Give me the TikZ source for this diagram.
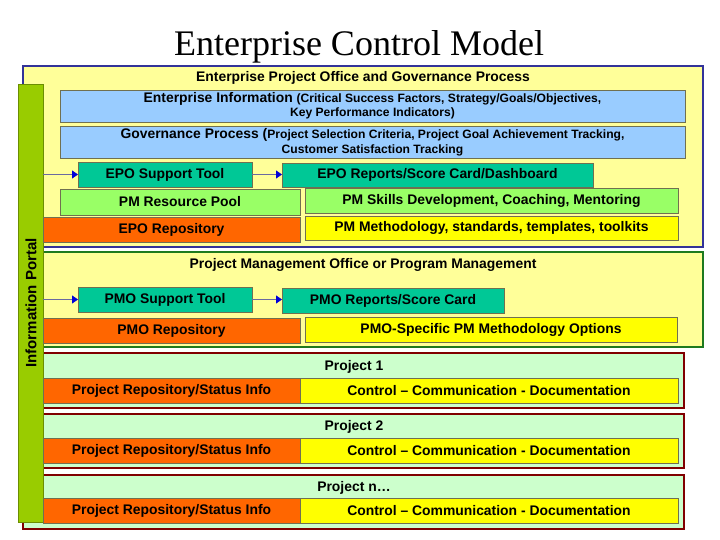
\documentclass[tikz,border=0pt]{standalone}
\usepackage{fontspec}
\setmainfont{Liberation Sans}
\newfontfamily\timesf{Liberation Serif}
\usetikzlibrary{arrows.meta}
\definecolor{pale}{HTML}{FFFF99}
\definecolor{bluebd}{HTML}{333399}
\definecolor{greenbd}{HTML}{1E7A1E}
\definecolor{redbd}{HTML}{800000}
\definecolor{projfill}{HTML}{CCFFCC}
\definecolor{portalfill}{HTML}{99CC00}
\definecolor{portalbd}{HTML}{6B8E00}
\definecolor{ltblue}{HTML}{99CCFF}
\definecolor{teal}{HTML}{00C896}
\definecolor{ltgreen}{HTML}{99FF66}
\definecolor{orng}{HTML}{FF6600}
\definecolor{yel}{HTML}{FFFF00}
\definecolor{boxline}{HTML}{707050}
\definecolor{arrline}{HTML}{6A6AA0}
\newcommand\bx[7]{\node[#6, minimum width={(#4-#2)*1pt}, minimum height={(#5-#3)*1pt}] (#1) at ({(#2+#4)/2},{(#3+#5)/2}) {#7};}
\tikzset{
  base/.style={inner sep=0pt, outer sep=0pt, font=\fontsize{13.9}{15}\selectfont\bfseries, align=center},
  inbox/.style={base, draw=boxline, line width=0.8pt},
  frame/.style={inner sep=0pt, outer sep=0pt, line width=2pt},
  lbl/.style={inner sep=0pt, font=\fontsize{13.9}{15}\selectfont\bfseries},
  arr/.style={draw=arrline, line width=0.9pt, -{Triangle[length=6pt,width=8pt,fill=blue!85!black,color=blue!85!black]}}
}
\newcommand\smalltxt{\fontsize{12.1}{14}\selectfont}
\begin{document}
\begin{tikzpicture}[x=1pt,y=-1pt]
\useasboundingbox (0,0) rectangle (720,540);
\node[anchor=base, inner sep=0pt, font=\timesf\fontsize{36}{40}\selectfont] (title) at (359,56) {Enterprise Control Model};
% outer frames
\bx{epo}{23}{66}{703}{247}{frame, draw=bluebd, fill=pale}{}
\bx{pmo}{23}{252}{703}{347}{frame, draw=greenbd, fill=pale}{}
\bx{p1}{23}{353}{684}{408}{frame, draw=redbd, fill=projfill}{}
\bx{p2}{23}{414}{684}{468}{frame, draw=redbd, fill=projfill}{}
\bx{pn}{23}{475}{684}{529}{frame, draw=redbd, fill=projfill}{}
% labels
\node[lbl] (epol) at (363,78) {Enterprise Project Office and Governance Process};
\node[lbl] (pmol) at (363,265) {Project Management Office or Program Management};
\node[lbl] (p1l) at (354,367) {Project 1};
\node[lbl] (p2l) at (354,427) {Project 2};
\node[lbl] (pnl) at (354,488) {Project n…};
% portal
\bx{portal}{18}{84}{43}{522}{inbox, draw=portalbd, fill=portalfill}{}
\node[lbl, rotate=90, font=\fontsize{15}{17}\selectfont\bfseries] (portall) at (31,303) {Information Portal};
% EPO inner boxes
\bx{entinfo}{60}{90}{685}{122}{inbox, fill=ltblue}{Enterprise Information {\smalltxt(Critical Success Factors, Strategy/Goals/Objectives,}\\[-1pt]{\smalltxt Key Performance Indicators)}}
\bx{gov}{60}{126}{685}{158}{inbox, fill=ltblue}{Governance Process ({\smalltxt Project Selection Criteria, Project Goal Achievement Tracking,}\\[0pt]{\smalltxt Customer Satisfaction Tracking}}
\bx{epos}{78}{162}{252}{187}{inbox, fill=teal}{EPO Support Tool}
\bx{epor}{282}{163}{593}{187}{inbox, fill=teal}{EPO Reports/Score Card/Dashboard}
\bx{pmres}{60}{189}{300}{215}{inbox, fill=ltgreen}{PM Resource Pool}
\bx{pmskill}{305}{188}{678}{213}{inbox, fill=ltgreen}{PM Skills Development, Coaching, Mentoring}
\bx{eporepo}{43}{217}{300}{242}{inbox, fill=orng}{EPO Repository}
\bx{pmmeth}{305}{216}{678}{240}{inbox, fill=yel}{PM Methodology, standards, templates, toolkits}
% PMO inner boxes
\bx{pmos}{78}{287}{252}{312}{inbox, fill=teal}{PMO Support Tool}
\bx{pmor}{282}{288}{504}{313}{inbox, fill=teal}{PMO Reports/Score Card}
\bx{pmorepo}{43}{318}{300}{343}{inbox, fill=orng}{PMO Repository}
\bx{pmospec}{305}{317}{677}{342}{inbox, fill=yel}{PMO-Specific PM Methodology Options}
% projects
\bx{p1r}{43}{378}{300}{403}{inbox, fill=orng}{Project Repository/Status Info}
\bx{p1c}{300}{378}{678}{403}{inbox, fill=yel}{Control – Communication - Documentation}
\bx{p2r}{43}{438}{300}{463}{inbox, fill=orng}{Project Repository/Status Info}
\bx{p2c}{300}{438}{678}{463}{inbox, fill=yel}{Control – Communication - Documentation}
\bx{pnr}{43}{498}{300}{523}{inbox, fill=orng}{Project Repository/Status Info}
\bx{pnc}{300}{498}{678}{523}{inbox, fill=yel}{Control – Communication - Documentation}
% arrows
\draw[arr] (portal.east |- epos.west) -- (epos.west);
\draw[arr] (epos.east) -- (epor.west |- epos.east);
\draw[arr] (portal.east |- pmos.west) -- (pmos.west);
\draw[arr] (pmos.east) -- (pmor.west |- pmos.east);
\end{tikzpicture}
\end{document}
